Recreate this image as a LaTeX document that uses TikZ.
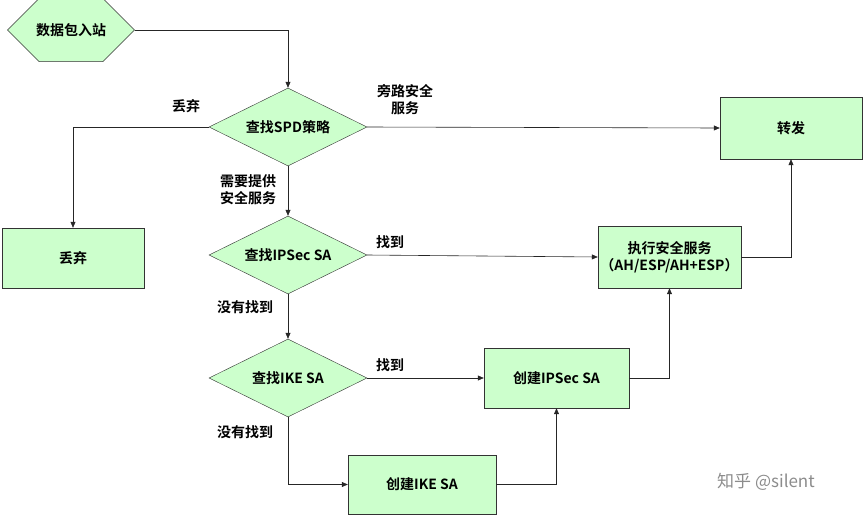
\documentclass[tikz,border=0pt]{standalone}
\usepackage{fontspec}
\setmainfont{Noto Sans CJK SC}[BoldFont={Noto Sans CJK SC Bold}]
\usetikzlibrary{shapes.geometric,shapes.misc,arrows.meta}
\definecolor{boxg}{HTML}{CCFFCC}
\begin{document}
\begin{tikzpicture}[x=1pt,y=-1pt,
  every node/.style={font=\fontsize{14pt}{17pt}\selectfont\bfseries},
  box/.style={draw=black!80,fill=boxg,inner sep=0,align=center},
  dia/.style={draw=black!80,fill=boxg,diamond,aspect=2,inner sep=0,minimum width=158pt,minimum height=78pt},
  lbl/.style={align=center,inner sep=1pt},
  arr/.style={-{Triangle[length=6pt,width=5pt]},black!85,line width=0.6pt}]
\useasboundingbox (0,0) rectangle (863,515);
\node[box,chamfered rectangle,chamfered rectangle xsep=12pt,chamfered rectangle ysep=25pt,minimum width=127pt,minimum height=50pt] (start) at (71,30) {数据包入站};
\node[dia] (d1) at (288,127) {查找SPD策略};
\node[dia] (d2) at (288,255) {查找IPSec SA};
\node[dia] (d3) at (288,378) {查找IKE SA};
\node[box,minimum width=142pt,minimum height=60pt] (drop) at (73,258) {丢弃};
\node[box,minimum width=142pt,minimum height=62pt] (fwd) at (791,128) {转发};
\node[box,minimum width=143pt,minimum height=62pt] (exec) at (669.5,257) {执行安全服务\\（AH/ESP/AH+ESP）};
\node[box,minimum width=145pt,minimum height=60pt] (ipsec) at (556.5,378) {创建IPSec SA};
\node[box,minimum width=148pt,minimum height=59pt] (ike) at (422,484.5) {创建IKE SA};
\draw[arr] (start.east) -| (d1.north);
\draw[arr] (d1.west) -| (drop.north);
\draw[arr] (d1.east) -- (fwd.west);
\draw[arr] (d1.south) -- (d2.north);
\draw[arr] (d2.east) -- (exec.west);
\draw[arr] (d2.south) -- (d3.north);
\draw[arr] (d3.east) -- (ipsec.west);
\draw[arr] (d3.south) |- (ike.west);
\draw[arr] (ike.east) -| (ipsec.south);
\draw[arr] (ipsec.east) -| (exec.south);
\draw[arr] (exec.east) -| (fwd.south);
\node[lbl] (l1) at (186,106) {丢弃};
\node[lbl] (l2) at (405,100) {旁路安全\\服务};
\node[lbl] (l3) at (248,190) {需要提供\\安全服务};
\node[lbl] (l4) at (390,242) {找到};
\node[lbl] (l5) at (245,307) {没有找到};
\node[lbl] (l6) at (390,365) {找到};
\node[lbl] (l7) at (245,432) {没有找到};
\node[font=\fontsize{17pt}{19pt}\selectfont,text=black!45] (wm) at (766,482) {知乎 @silent};
\end{tikzpicture}
\end{document}
